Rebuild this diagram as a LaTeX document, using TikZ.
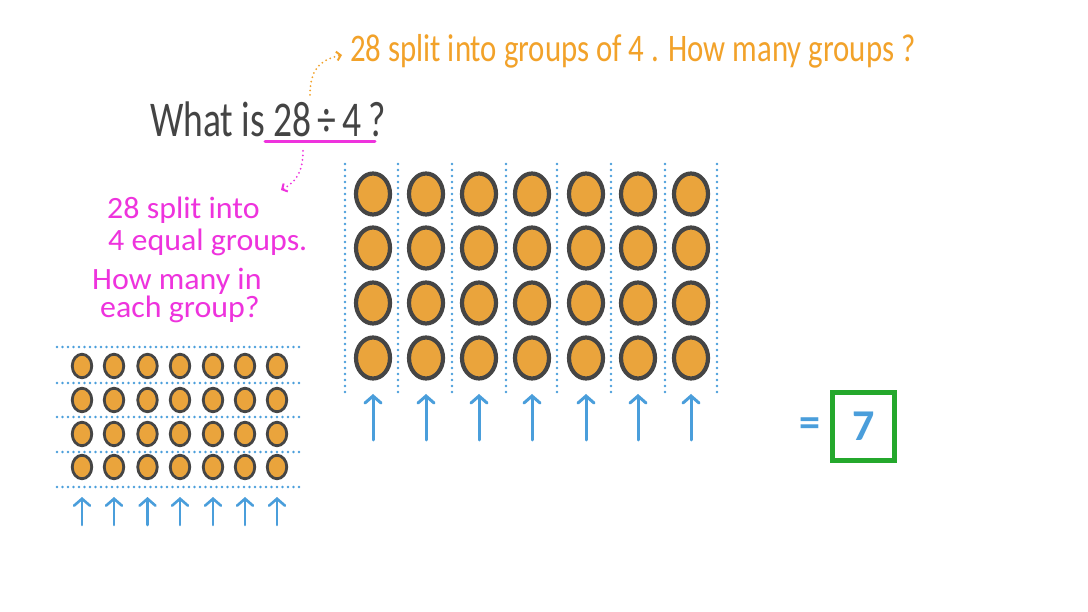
\documentclass[tikz,border=0pt]{standalone}
\usepackage{fontspec}
\setmainfont{Carlito}
\usetikzlibrary{arrows.meta,shapes.geometric}
\definecolor{txtdark}{HTML}{444444}
\definecolor{txtorange}{HTML}{F2A22A}
\definecolor{txtpink}{HTML}{EE33DD}
\definecolor{coinfill}{HTML}{EAA43C}
\definecolor{coinedge}{HTML}{454545}
\definecolor{guideblue}{HTML}{4A9EDB}
\definecolor{boxgreen}{HTML}{24A82C}
\tikzset{
  bigcoin/.style={ellipse,draw=coinedge,fill=coinfill,line width=4.2pt,minimum width=34pt,minimum height=41pt,inner sep=0pt},
  smallcoin/.style={ellipse,draw=coinedge,fill=coinfill,line width=2.8pt,minimum width=19.5pt,minimum height=23.5pt,inner sep=0pt},
  guide/.style={guideblue,line width=2.6pt,line cap=round,dash pattern=on 0pt off 6pt},
  uparrow/.style={guideblue,line width=3pt,line cap=round,-{Straight Barb[length=7pt,width=16pt,line cap=round]}},
  titletext/.style={text=txtdark,font=\fontsize{50}{50}\selectfont,anchor=base west,inner sep=0pt,transform shape,xscale=0.75},
  orangetext/.style={text=txtorange,font=\fontsize{39}{39}\selectfont,anchor=base west,inner sep=0pt,transform shape,xscale=0.79},
  pinktext/.style={text=txtpink,font=\fontsize{31}{31}\selectfont,anchor=base west,inner sep=0pt,transform shape,xscale=1.03},
}
\begin{document}
\begin{tikzpicture}[x=1pt,y=-1pt]
\useasboundingbox[fill=white] (0,0) rectangle (1088,612);
% texts
\node[titletext] (title) at (150,137) {What is 28\,÷\,4\,?};
\node[orangetext] (otext) at (350,62) {28 split into groups of 4 . How many groups ?};
\node[pinktext] (p1) at (107,219) {28 split into};
\node[pinktext] (p2) at (108,251) {4 equal groups.};
\node[pinktext] (p3) at (92,290) {How many in};
\node[pinktext] (p4) at (100,318) {each group?};
% underline
\coordinate (ul1) at (265,142);
\coordinate (ul2) at (375,142);
\draw[txtpink,line width=3pt,line cap=round] (ul1) -- (ul2);
% dotted arrows
\coordinate (oa) at (310,95);
\coordinate (ob) at (342,55);
\draw[txtorange,line width=2pt,line cap=round,dash pattern=on 0pt off 4.5pt,-{Straight Barb[length=4pt,width=9pt]}] (oa) .. controls (310,72) and (318,60) .. (ob);
\coordinate (pa) at (303,151);
\coordinate (pb) at (281,190);
\draw[txtpink,line width=2pt,line cap=round,dash pattern=on 0pt off 4.5pt,-{Straight Barb[length=4pt,width=9pt]}] (pa) .. controls (303,172) and (296,182) .. (pb);
% big grid
\foreach \c/\x in {1/373,2/426,3/479,4/532,5/586,6/638,7/691}{
  \foreach \r/\y in {1/194,2/248,3/303,4/358}{
    \node[bigcoin] (B\r\c) at (\x,\y) {};
  }
  \coordinate (BA\c) at (\x,440);
  \coordinate (BT\c) at (\x,394);
  \draw[uparrow] (BA\c) -- (BT\c);
}
\foreach \x in {345,398,452,506,557,611,665,717}{
  \draw[guide] (\x,164) -- (\x,392);
}
% small grid
\foreach \c/\x in {1/82,2/114,3/147.5,4/180,5/213,6/245,7/277}{
  \foreach \r/\y in {1/366,2/400,3/434,4/467}{
    \node[smallcoin] (S\r\c) at (\x,\y) {};
  }
  \coordinate (SA\c) at (\x,525);
  \coordinate (ST\c) at (\x,497);
  \draw[uparrow,line width=2.6pt] (SA\c) -- (ST\c);
}
\foreach \y in {347,383,417,452,487}{
  \draw[guide,dash pattern=on 0pt off 5.5pt] (57,\y) -- (302,\y);
}
% answer
\node[text=guideblue,font=\bfseries\fontsize{42}{42}\selectfont,inner sep=0pt] (eq) at (810,427) {=};
\node[draw=boxgreen,line width=5pt,minimum width=62pt,minimum height=68pt,text=guideblue,font=\bfseries\fontsize{44}{44}\selectfont,inner sep=0pt] (ans) at (863.5,426.5) {7};
\end{tikzpicture}
\end{document}
